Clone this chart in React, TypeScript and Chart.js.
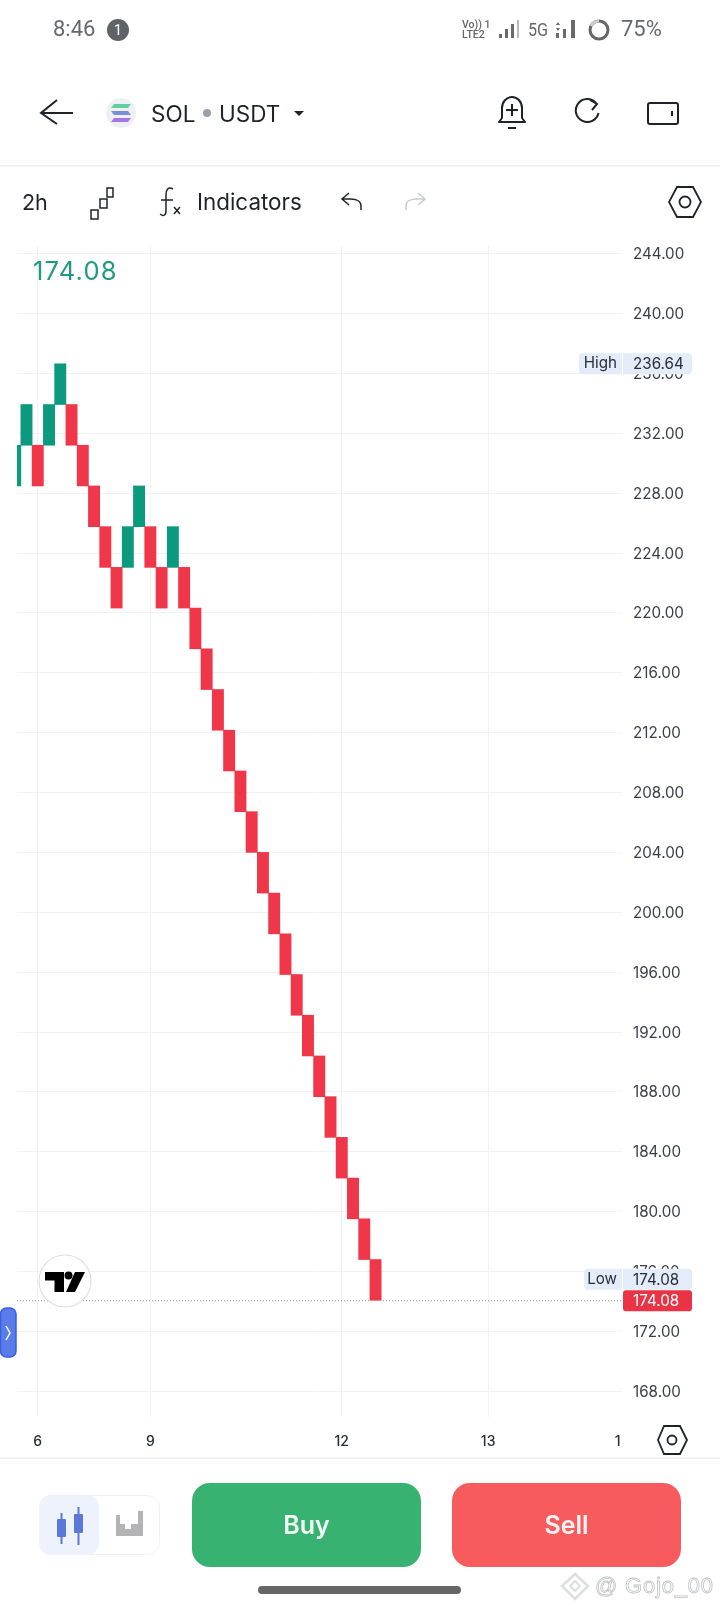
import React, { useEffect, useRef } from "react";
import { Chart, registerables } from "chart.js";

Chart.register(...registerables);

const brickIndex = [0,1,2,3,4,5,6,7,8,9,10,11,12,13,14,15,16,17,18,19,20,21,22,23,24,25,26,27,28,29,30,31,32];
const brickOpen = [228.48,231.20,231.20,231.20,233.92,233.92,231.20,228.48,225.76,223.04,223.04,225.76,225.76,223.04,223.04,223.04,220.32,217.60,214.88,212.16,209.44,206.72,204.00,201.28,198.56,195.84,193.12,190.40,187.68,184.96,182.24,179.52,176.80];
const brickClose = [231.20,233.92,228.48,233.92,236.64,231.20,228.48,225.76,223.04,220.32,225.76,228.48,223.04,220.32,225.76,220.32,217.60,214.88,212.16,209.44,206.72,204.00,201.28,198.56,195.84,193.12,190.40,187.68,184.96,182.24,179.52,176.80,174.08];
const yTicks = [168,172,176,180,184,188,192,196,200,204,208,212,216,220,224,228,232,236,240,244];
const xTickPositions = [2,12,29,42,53.5];
const xTickLabels = ["6","9","12","13","1"];
const highPrice = 236.64;
const lowPrice = 174.08;
const lastPrice = 174.08;

const UP = "#0b9a7d";
const DOWN = "#f03649";
const FONT = "Inter, sans-serif";

const tagPlugin = {
  id: "tags",
  afterDraw(chart: any) {
    const { ctx, scales, chartArea } = chart;
    const y = scales.y;
    const left = chartArea.left;
    const axisX = chartArea.right + 1;
    const right = 692;
    const labelX = 633;
    const yLast = y.getPixelForValue(lastPrice);
    const yHigh = y.getPixelForValue(highPrice);
    ctx.save();
    ctx.strokeStyle = "#8f9499";
    ctx.lineWidth = 1;
    ctx.setLineDash([1, 2]);
    ctx.beginPath();
    ctx.moveTo(left, yLast + 0.5);
    ctx.lineTo(axisX, yLast + 0.5);
    ctx.stroke();
    ctx.setLineDash([]);

    const drawPair = (cy: number, name: string, value: string) => {
      const start = name === "High" ? 579 : 584;
      ctx.fillStyle = "#e3edf9";
      ctx.beginPath();
      ctx.roundRect(start, cy - 10.5, axisX - start - 1, 21, [4, 0, 0, 4]);
      ctx.fill();
      ctx.beginPath();
      ctx.roundRect(axisX, cy - 10.5, right - axisX, 21, [0, 4, 4, 0]);
      ctx.fill();
      ctx.fillStyle = "#2a2e39";
      ctx.font = `15.2px ${FONT}`;
      ctx.textBaseline = "middle";
      ctx.textAlign = "right";
      ctx.fillText(name, axisX - 6, cy);
      ctx.textAlign = "left";
      ctx.fillText(value, labelX, cy + 1);
    };
    drawPair(yHigh, "High", highPrice.toFixed(2));
    drawPair(yLast - 21, "Low", lowPrice.toFixed(2));

    ctx.fillStyle = "#ea3344";
    ctx.beginPath();
    ctx.roundRect(axisX, yLast - 10, right - axisX, 21, 3);
    ctx.fill();
    ctx.fillStyle = "#ffffff";
    ctx.font = `15.2px ${FONT}`;
    ctx.textAlign = "left";
    ctx.textBaseline = "middle";
    ctx.fillText(lastPrice.toFixed(2), labelX, yLast + 1);
    ctx.restore();
  },
};

function RenkoChart() {
  const ref = useRef<HTMLCanvasElement>(null);
  useEffect(() => {
    const chart = new Chart(ref.current!, {
      type: "bar",
      data: {
        datasets: [
          {
            data: brickIndex.map((x, i) => ({ x, y: [brickOpen[i], brickClose[i]] })) as any,
            backgroundColor: brickIndex.map((_, i) => (brickClose[i] > brickOpen[i] ? UP : DOWN)),
            borderWidth: 0,
            barThickness: 11.26,
          },
        ],
      },
      plugins: [tagPlugin],
      options: {
        animation: false,
        responsive: false,
        layout: { autoPadding: false, padding: { left: 17, top: 0, right: 0, bottom: 0 } },
        plugins: { legend: { display: false }, tooltip: { enabled: false } },
        scales: {
          x: {
            type: "linear",
            offset: false,
            min: 0.156,
            max: 53.89,
            grid: {
              offset: false,
              drawTicks: false,
              color: (c: any) => (c.tick && c.tick.value === xTickPositions[4] ? "rgba(0,0,0,0)" : "#f1f2f4"),
            },
            border: { display: false },
            afterBuildTicks: (s: any) => {
              s.ticks = xTickPositions.map((value) => ({ value }));
            },
            afterFit: (s: any) => {
              s.height = 41;
              s.paddingLeft = 0;
              s.paddingRight = 0;
            },
            ticks: {
              autoSkip: false,
              maxRotation: 0,
              padding: 16,
              color: "#2a2e39",
              font: { family: FONT, size: 14, weight: 500 },
              callback: (v: any) => xTickLabels[xTickPositions.indexOf(Number(v))],
            },
          },
          y: {
            type: "linear",
            position: "right",
            min: 166.28,
            max: 244.51,
            grid: { drawTicks: false, color: "#f1f2f4" },
            border: { display: false },
            afterBuildTicks: (s: any) => {
              s.ticks = yTicks.map((value) => ({ value }));
            },
            afterFit: (s: any) => {
              s.width = 98;
              s.paddingTop = 0;
              s.paddingBottom = 0;
            },
            ticks: {
              padding: 11,
              labelOffset: 1,
              align: "center",
              crossAlign: "near",
              color: "#3a3e48",
              font: { family: FONT, size: 15.2 },
              callback: (v: any) => Number(v).toFixed(2),
            },
          },
        },
      },
    } as any);
    return () => chart.destroy();
  }, []);
  return <canvas ref={ref} width={720} height={1212} style={{ position: "absolute", left: 0, top: 246, width: 720, height: 1212 }} />;
}

const abs = (left: number, top: number, extra: React.CSSProperties = {}): React.CSSProperties => ({
  position: "absolute",
  left,
  top,
  whiteSpace: "nowrap",
  ...extra,
});

function Text({ x, cy, size, color = "#1f2329", weight = 400, family = FONT, children, spacing = 0, extra = {} }: any) {
  return (
    <div style={abs(x, cy - size, { fontSize: size, lineHeight: `${size * 2}px`, color, fontWeight: weight, fontFamily: family, letterSpacing: spacing, ...extra })}>
      {children}
    </div>
  );
}

function Chrome() {
  const ink = "#1f2329";
  return (
    <svg width={720} height={1612} style={{ position: "absolute", left: 0, top: 0, pointerEvents: "none" }} fill="none">
      {/* status bar */}
      <circle cx={118} cy={30} r={11} fill="#5f6368" />
      <g fill="#6a6a6a">
        <rect x={499} y={34} width={3} height={4} />
        <rect x={505} y={29} width={3} height={9} />
        <rect x={511} y={24} width={3} height={14} />
        <rect x={517} y={20} width={2} height={18} fill="#bbb" />
        <path d="M556 25 L558 22 L560 25 Z M556 28 L558 31 L560 28 Z" />
        <rect x={556} y={33} width={3} height={5} />
        <rect x={563} y={29} width={3} height={9} />
        <rect x={571} y={20} width={4} height={18} />
      </g>
      <circle cx={599} cy={30} r={9} stroke="#666" strokeWidth={3} />
      <path d="M599 21 A9 9 0 0 0 591 26" stroke="#ccc" strokeWidth={3} />
      {/* nav bar */}
      <path d="M73 113 H42 M57 100 L41 113 L57 124" stroke={ink} strokeWidth={2} />
      <circle cx={121} cy={113} r={15} fill="#eef0f4" />
      <path d="M111 108 L114 104 H131 L128 108 Z" fill="#5fcfa6" />
      <path d="M111 111 H128 L131 115 H114 Z" fill="#7a8fd6" />
      <path d="M111 122 L114 118 H131 L128 122 Z" fill="#a874ea" />
      <circle cx={207} cy={113} r={4} fill="#9aa0a6" />
      <path d="M294 111 H304 L299 116 Z" fill={ink} />
      <path d="M502 118 V108 A10 11 0 0 1 522 108 V118 L525 122 H499 Z" stroke={ink} strokeWidth={2} strokeLinejoin="round" />
      <path d="M512 104 V116 M506 110 H518 M508 128 H516" stroke={ink} strokeWidth={2} />
      <path d="M596 103 A11.5 11.5 0 1 0 598.5 113" stroke={ink} strokeWidth={2} />
      <path d="M590 100 L597 104 L592 110" stroke={ink} strokeWidth={2} />
      <rect x={648} y={103} width={30} height={21} rx={2} stroke={ink} strokeWidth={2} />
      <rect x={671} y={111} width={2} height={5} fill={ink} />
      <rect x={0} y={165} width={720} height={1.5} fill="#eeeff1" />
      {/* toolbar */}
      <rect x={91} y={210} width={7} height={9} stroke={ink} strokeWidth={1.5} />
      <rect x={100} y={199} width={7} height={9} stroke={ink} strokeWidth={1.5} />
      <rect x={107} y={188} width={6} height={9} stroke={ink} strokeWidth={1.5} />
      <path d="M173 189 C168 186 166 190 166 195 V210 C166 215 164 217 160 214 M161 200 H173" stroke={ink} strokeWidth={1.5} />
      <path d="M174 207 L180 214 M180 207 L174 214" stroke={ink} strokeWidth={1.5} />
      <path d="M361 210 V206 C361 201 356 199 351 199 H342 M349 193 L342 199 L349 205" stroke={ink} strokeWidth={1.5} />
      <path d="M406 210 V206 C406 201 411 199 416 199 H425 M418 193 L425 199 L418 205" stroke="#c8ccd0" strokeWidth={1.5} />
      <path d="M677 187 H693 L701 202 L693 217 H677 L669 202 Z" stroke={ink} strokeWidth={1.8} />
      <circle cx={685} cy={202} r={5.5} stroke={ink} strokeWidth={1.8} />
      {/* tv logo */}
      <circle cx={65} cy={1281} r={26} fill="#fff" stroke="#dddfe2" strokeWidth={1.2} />
      <path d="M45 1272 H64 V1292 H54.5 V1280.5 H45 Z" fill="#000" />
      <circle cx={68.5} cy={1275.5} r={4} fill="#000" />
      <path d="M75 1272 H85 L75 1292 H66 Z" fill="#000" />
      {/* side tab */}
      <rect x={0.5} y={1308} width={15.5} height={49} rx={6} fill="#5a7cea" stroke="#3560dc" strokeWidth={1.5} />
      <path d="M6 1326 L10 1333 L6 1340" stroke="#fff" strokeWidth={1.5} />
      {/* axis hex */}
      <path d="M664 1426 H680 L687 1440 L680 1454 H664 L658 1440 Z" stroke={ink} strokeWidth={1.8} />
      <circle cx={672} cy={1440} r={4.5} stroke={ink} strokeWidth={1.8} />
      <rect x={0} y={1457.5} width={720} height={1.5} fill="#eeeff1" />
      {/* toggle */}
      <rect x={39.5} y={1495.5} width={120} height={59} rx={12} fill="#fff" stroke="#f0f1f3" />
      <path d="M39 1507 A12 12 0 0 1 51 1495 H87 A12 12 0 0 1 99 1507 V1543 A12 12 0 0 1 87 1555 H51 A12 12 0 0 1 39 1543 Z" fill="#eef2fc" />
      <g fill="#5b78d9">
        <rect x={57} y={1519} width={9} height={18} rx={1} />
        <rect x={60.5} y={1513} width={2} height={31} />
        <rect x={74} y={1514} width={9} height={19} rx={1} />
        <rect x={77.5} y={1507} width={2} height={38} />
      </g>
      <path d="M116 1515 H120 V1524 H125 V1529 H131 V1524 H138 V1511 H143 V1536 H116 Z" fill="#b4b4b6" />
      {/* buttons */}
      <rect x={192} y={1483} width={229} height={84} rx={18} fill="#38b270" />
      <rect x={452} y={1483} width={229} height={84} rx={18} fill="#f75b5d" />
      <rect x={258} y={1586} width={203} height={8} rx={4} fill="#666" />
      <path d="M575 1574 L588 1586 L575 1599 L562 1586 Z" stroke="#dcdee0" strokeWidth={2.5} />
      <path d="M575 1581 L580 1586 L575 1591 L570 1586 Z" stroke="#dcdee0" strokeWidth={2} />
    </svg>
  );
}

function Labels() {
  return (
    <>
      <Text x={53} cy={29} size={22} color="#666a6e" family="Roboto, sans-serif">8:46</Text>
      <div style={abs(111, 19, { width: 14, height: 22, textAlign: "center", color: "#fff", fontSize: 15, lineHeight: "22px", fontFamily: "Roboto, sans-serif" })}>1</div>
      <div style={abs(462, 20, { fontSize: 10.5, lineHeight: "10px", color: "#666", fontFamily: "Roboto, sans-serif", fontWeight: 500 })}>
        Vo)) 1<br />LTE2
      </div>
      <Text x={528} cy={30} size={19} color="#666" family="Roboto, sans-serif" extra={{ transform: "scaleX(0.85)", transformOrigin: "left" }}>5G</Text>
      <Text x={621} cy={29} size={22} color="#666a6e" family="Roboto, sans-serif">75%</Text>
      <Text x={151} cy={113} size={22.5}>SOL</Text>
      <Text x={219} cy={113} size={22.5}>USDT</Text>
      <Text x={22} cy={202} size={21.5}>2h</Text>
      <Text x={197} cy={202} size={22.4}>Indicators</Text>
      <Text x={33} cy={270} size={25.5} color="#1f9a82" spacing={1.2} weight={400}>174.08</Text>
      <div style={abs(192, 1483, { width: 229, height: 84, textAlign: "center", lineHeight: "84px", color: "#f2fff8", fontFamily: FONT, fontWeight: 600, fontSize: 25 })}>Buy</div>
      <div style={abs(452, 1483, { width: 229, height: 84, textAlign: "center", lineHeight: "84px", color: "#fff4f4", fontFamily: FONT, fontWeight: 600, fontSize: 25 })}>Sell</div>
      <Text x={595} cy={1586} size={22} color="#fff" family="'Liberation Sans', sans-serif" spacing={0.8} extra={{ WebkitTextStroke: "0.8px #bfc1c4" }}>@ Gojo_00</Text>
    </>
  );
}

export default function App() {
  return (
    <div style={{ position: "absolute", left: 0, top: 0, width: 720, height: 1612, overflow: "hidden", background: "#fff" }}>
      <RenkoChart />
      <Chrome />
      <Labels />
    </div>
  );
}
